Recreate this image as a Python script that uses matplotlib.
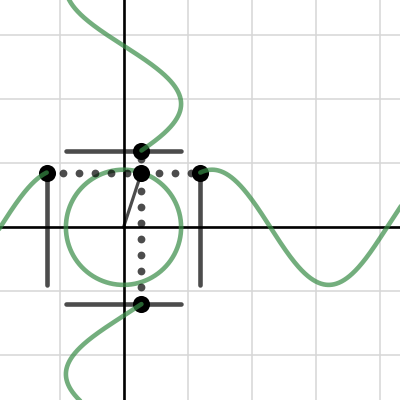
import numpy as np
import matplotlib
matplotlib.use("Agg")
import matplotlib.pyplot as plt

# ---- data / parameters (grid units) ----
radius = [0.9]            # unit-circle radius
angle = [1.254]           # angle of the moving point (rad)
wave_scale = [0.58]       # units per radian for the sine waves
offset = [1.2]            # where the unrolled waves start
grid_x = [-1, 0, 1, 2, 3, 4]
grid_y = [-2, -1, 0, 1, 2, 3]

R = radius[0]; th = angle[0]; s = wave_scale[0]; d = offset[0]
px, py = R * np.cos(th), R * np.sin(th)

GREEN = (0.219, 0.549, 0.275, 0.7)
BAR = (0, 0, 0, 0.7)
DOT = (0, 0, 0, 0.7)

fig = plt.figure(figsize=(4, 4), dpi=100)
ax = fig.add_axes([0, 0, 1, 1])
ax.set_xlim(-123.5 / 64, 276.5 / 64)
ax.set_ylim(-172.7 / 64, 227.3 / 64)
ax.axis("off")

for g in grid_x:
    ax.axvline(g, color="#d6d6d6", lw=1.1, zorder=0)
for g in grid_y:
    ax.axhline(g, color="#d6d6d6", lw=1.1, zorder=0)
ax.axhline(0, color="black", lw=1.9, zorder=1)
ax.axvline(0, color="black", lw=1.9, zorder=1)

# circle
t = np.linspace(0, 2 * np.pi, 400)
ax.plot(R * np.cos(t), R * np.sin(t), color=GREEN, lw=3.3, zorder=2, solid_capstyle="round")

# radius segment
ax.plot([0, px], [0, py], color=BAR, lw=2.3, zorder=3, solid_capstyle="round")

# bars
ax.plot([-R, R], [d, d], color=BAR, lw=3.3, solid_capstyle="round", zorder=3)
ax.plot([-R, R], [-d, -d], color=BAR, lw=3.3, solid_capstyle="round", zorder=3)
ax.plot([-d, -d], [py, -R], color=BAR, lw=3.3, solid_capstyle="round", zorder=3)
ax.plot([d, d], [py, -R], color=BAR, lw=3.3, solid_capstyle="round", zorder=3)

# dotted guides
hx = -d + 0.25 * np.arange(1, 10)
ax.plot(hx, np.full_like(hx, py), "o", color=DOT, ms=5.6, mec="none", zorder=3)
vy = 1.066 - 0.2495 * np.arange(0, 10)
ax.plot(np.full_like(vy, px), vy, "o", color=DOT, ms=5.6, mec="none", zorder=3)

# points
pts_x = [px, -d, d, px, px]
pts_y = [py, py, py, d, -d]
ax.plot(pts_x, pts_y, "o", color="black", ms=12.3, mec="none", zorder=4)

# horizontal sine waves (right and left)
xr = np.linspace(d, 4.5, 400)
ax.plot(xr, R * np.sin(th + (xr - d) / s), color=GREEN, lw=3.3, zorder=5, solid_capstyle="round")
xl = np.linspace(-2.1, -d, 300)
ax.plot(xl, R * np.sin(th + (xl + d) / s), color=GREEN, lw=3.3, zorder=5, solid_capstyle="round")

# vertical sine waves (top and bottom)
yt = np.linspace(d, 3.7, 400)
ax.plot(R * np.cos(th - (yt - d) / s), yt, color=GREEN, lw=3.3, zorder=5, solid_capstyle="round")
yb = np.linspace(-2.9, -d, 300)
ax.plot(R * np.cos(th + (-d - yb) / s), yb, color=GREEN, lw=3.3, zorder=5, solid_capstyle="round")

fig.savefig("out.png", dpi=100)
